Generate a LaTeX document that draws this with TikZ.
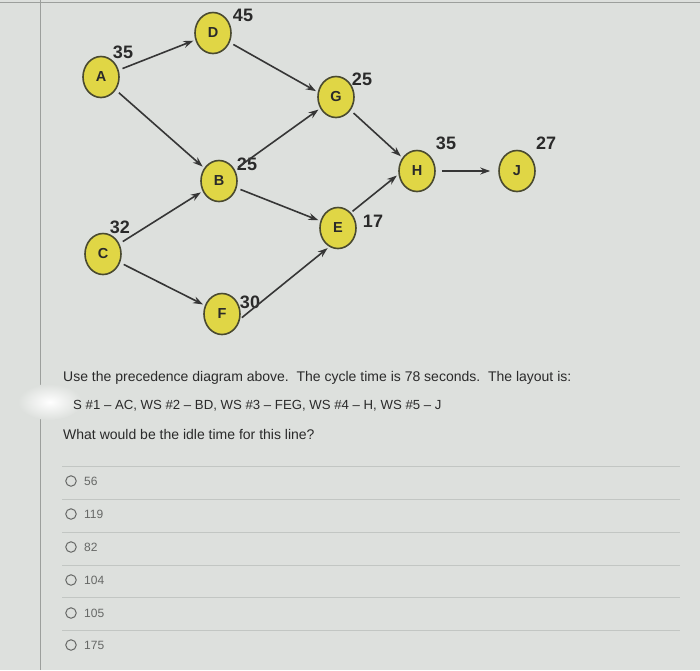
\documentclass[tikz,border=0pt]{standalone}
\usepackage{fontspec}
\setmainfont{Liberation Sans}
\usetikzlibrary{shapes.geometric,arrows.meta}
\definecolor{bg}{HTML}{DDE0DD}
\definecolor{nodefill}{HTML}{E0D645}
\definecolor{nodeborder}{HTML}{4A4A30}
\definecolor{arrowc}{HTML}{363636}
\definecolor{txt}{HTML}{2A2A2A}
\definecolor{opt}{HTML}{666866}
\definecolor{rule}{HTML}{C2C6C3}
\definecolor{edge}{HTML}{9C9F9C}
\tikzset{
  task/.style={ellipse, draw=nodeborder, line width=1.6pt, fill=nodefill,
    minimum width=36pt, minimum height=41pt, inner sep=0pt, text=txt,
    font=\bfseries\fontsize{14.5}{14.5}\selectfont},
  dur/.style={inner sep=0pt, text=txt, font=\bfseries\fontsize{18}{18}\selectfont},
  link/.style={draw=arrowc, line width=1.6pt, -{Stealth[length=10pt,width=7pt]},
    shorten <=4pt, shorten >=2pt},
  qtext/.style={anchor=west, inner sep=0pt, text=txt, font=\fontsize{14}{14}\selectfont},
  optext/.style={anchor=west, inner sep=0pt, text=opt, font=\fontsize{12}{12}\selectfont},
  radio/.style={circle, draw=opt, line width=1pt, minimum size=10.5pt, inner sep=0pt},
  sep/.style={draw=rule, line width=1pt}
}
\begin{document}
\begin{tikzpicture}[x=1pt,y=-1pt]
\useasboundingbox (0,0) rectangle (700,670);
\fill[bg] (0,0) rectangle (700,670);
\draw[edge, line width=1pt] (40,0) -- (40,670);
\draw[edge, line width=1pt] (0,2) -- (700,2);
% glare
\shade[inner color=white, outer color=bg] (50,402) ellipse (32 and 18);
% tasks
\node[task] (A) at (101,77) {A};
\node[task] (D) at (213,33) {D};
\node[task] (G) at (336,97) {G};
\node[task] (B) at (219,181) {B};
\node[task] (E) at (338,228) {E};
\node[task] (C) at (103,254) {C};
\node[task] (F) at (222,314) {F};
\node[task] (H) at (417,171) {H};
\node[task] (J) at (517,171) {J};
% durations
\node[dur] (tA) at (123,52) {35};
\node[dur] (tD) at (243,15) {45};
\node[dur] (tG) at (362,79) {25};
\node[dur] (tB) at (247,164) {25};
\node[dur] (tE) at (373,221) {17};
\node[dur] (tC) at (120,227) {32};
\node[dur] (tF) at (250,302) {30};
\node[dur] (tH) at (446,143) {35};
\node[dur] (tJ) at (546,143) {27};
% precedence
\draw[link] (A) -- (D);
\draw[link] (D) -- (G.165);
\draw[link] (A) -- (B);
\draw[link] (B) -- (G);
\draw[link] (B) -- (E);
\draw[link] (G) -- (H);
\draw[link, shorten <=2pt] (E.50) -- (H.190);
\draw[link] (C) -- (B);
\draw[link] (C) -- (F);
\draw[link, shorten <=2pt] (F.345) -- (E.245);
\draw[link, shorten <=6pt, shorten >=8pt] (H) -- (J);
% question
\node[qtext] (q1) at (63,378) {Use the precedence diagram above.\ \ The cycle time is 78 seconds.\ \ The layout is:};
\node[qtext, font=\fontsize{13.2}{13}\selectfont] (q2) at (73,406) {S \#1 – AC, WS \#2 – BD, WS \#3 – FEG, WS \#4 – H, WS \#5 – J};
\node[qtext] (q3) at (63,434) {What would be the idle time for this line?};
% answer rows
\draw[sep] (62,466) -- (680,466);
\draw[sep] (62,499) -- (680,499);
\draw[sep] (62,532) -- (680,532);
\draw[sep] (62,565) -- (680,565);
\draw[sep] (62,597) -- (680,597);
\draw[sep] (62,630) -- (680,630);
\node[radio] (r1) at (71,481) {};
\node[optext] (o1) at (84,481) {56};
\node[radio] (r2) at (71,514) {};
\node[optext] (o2) at (84,514) {119};
\node[radio] (r3) at (71,547) {};
\node[optext] (o3) at (84,547) {82};
\node[radio] (r4) at (71,580) {};
\node[optext] (o4) at (84,580) {104};
\node[radio] (r5) at (71,613) {};
\node[optext] (o5) at (84,613) {105};
\node[radio] (r6) at (71,645) {};
\node[optext] (o6) at (84,645) {175};
\end{tikzpicture}
\end{document}
